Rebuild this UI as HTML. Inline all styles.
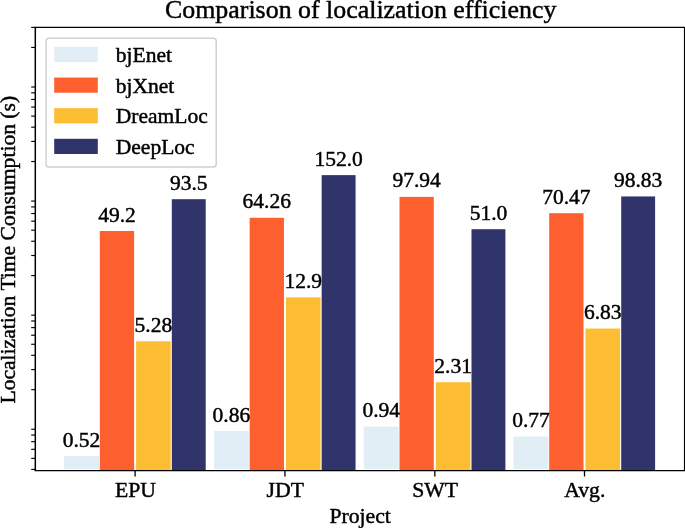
<!DOCTYPE html>
<html><head><meta charset="utf-8"><title>Comparison of localization efficiency</title>
<style>html,body{margin:0;padding:0;background:#fff}body{width:685px;height:528px;overflow:hidden}</style></head>
<body>
<svg width="685" height="528" viewBox="0 0 685 528" style="display:block;font-family:'Liberation Serif','Times New Roman',serif">
<rect width="685" height="528" fill="#fff"/>
<rect x="64.10" y="455.92" width="34.90" height="13.08" fill="#E1EEF6"/>
<rect x="213.95" y="430.99" width="34.90" height="38.01" fill="#E1EEF6"/>
<rect x="363.80" y="426.59" width="34.90" height="42.41" fill="#E1EEF6"/>
<rect x="513.50" y="436.47" width="34.90" height="32.53" fill="#E1EEF6"/>
<rect x="99.80" y="231.00" width="34.30" height="239.00" fill="#FE5F2E"/>
<rect x="249.65" y="217.77" width="34.30" height="252.23" fill="#FE5F2E"/>
<rect x="399.50" y="196.89" width="34.30" height="273.11" fill="#FE5F2E"/>
<rect x="549.20" y="213.20" width="34.30" height="256.80" fill="#FE5F2E"/>
<rect x="136.10" y="341.28" width="34.60" height="128.72" fill="#FCBD32"/>
<rect x="285.95" y="297.32" width="34.60" height="172.68" fill="#FCBD32"/>
<rect x="435.80" y="382.24" width="34.60" height="87.76" fill="#FCBD32"/>
<rect x="585.50" y="328.53" width="34.60" height="141.47" fill="#FCBD32"/>
<rect x="171.80" y="199.19" width="33.90" height="270.81" fill="#31336B"/>
<rect x="321.65" y="175.12" width="33.90" height="294.88" fill="#31336B"/>
<rect x="471.50" y="229.22" width="33.90" height="240.78" fill="#31336B"/>
<rect x="621.20" y="196.44" width="33.90" height="273.56" fill="#31336B"/>
<text x="81.55" y="446.52" font-size="21.5" text-anchor="middle" fill="#000" stroke="#000" stroke-width="0.45">0.52</text>
<text x="116.95" y="221.60" font-size="21.5" text-anchor="middle" fill="#000" stroke="#000" stroke-width="0.45">49.2</text>
<text x="153.40" y="331.88" font-size="21.5" text-anchor="middle" fill="#000" stroke="#000" stroke-width="0.45">5.28</text>
<text x="188.75" y="189.79" font-size="21.5" text-anchor="middle" fill="#000" stroke="#000" stroke-width="0.45">93.5</text>
<text x="231.40" y="421.59" font-size="21.5" text-anchor="middle" fill="#000" stroke="#000" stroke-width="0.45">0.86</text>
<text x="266.80" y="208.37" font-size="21.5" text-anchor="middle" fill="#000" stroke="#000" stroke-width="0.45">64.26</text>
<text x="303.25" y="287.92" font-size="21.5" text-anchor="middle" fill="#000" stroke="#000" stroke-width="0.45">12.9</text>
<text x="338.60" y="165.72" font-size="21.5" text-anchor="middle" fill="#000" stroke="#000" stroke-width="0.45">152.0</text>
<text x="381.25" y="417.19" font-size="21.5" text-anchor="middle" fill="#000" stroke="#000" stroke-width="0.45">0.94</text>
<text x="416.65" y="187.49" font-size="21.5" text-anchor="middle" fill="#000" stroke="#000" stroke-width="0.45">97.94</text>
<text x="453.10" y="372.84" font-size="21.5" text-anchor="middle" fill="#000" stroke="#000" stroke-width="0.45">2.31</text>
<text x="488.45" y="219.82" font-size="21.5" text-anchor="middle" fill="#000" stroke="#000" stroke-width="0.45">51.0</text>
<text x="530.95" y="427.07" font-size="21.5" text-anchor="middle" fill="#000" stroke="#000" stroke-width="0.45">0.77</text>
<text x="566.35" y="203.80" font-size="21.5" text-anchor="middle" fill="#000" stroke="#000" stroke-width="0.45">70.47</text>
<text x="602.80" y="319.13" font-size="21.5" text-anchor="middle" fill="#000" stroke="#000" stroke-width="0.45">6.83</text>
<text x="638.15" y="187.04" font-size="21.5" text-anchor="middle" fill="#000" stroke="#000" stroke-width="0.45">98.83</text>
<line x1="31.20" x2="35.30" y1="469.42" y2="469.42" stroke="#000" stroke-width="1.15"/>
<line x1="31.20" x2="35.30" y1="458.36" y2="458.36" stroke="#000" stroke-width="1.15"/>
<line x1="31.20" x2="35.30" y1="449.33" y2="449.33" stroke="#000" stroke-width="1.15"/>
<line x1="31.20" x2="35.30" y1="441.69" y2="441.69" stroke="#000" stroke-width="1.15"/>
<line x1="31.20" x2="35.30" y1="435.08" y2="435.08" stroke="#000" stroke-width="1.15"/>
<line x1="31.20" x2="35.30" y1="429.24" y2="429.24" stroke="#000" stroke-width="1.15"/>
<line x1="31.20" x2="35.30" y1="389.68" y2="389.68" stroke="#000" stroke-width="1.15"/>
<line x1="31.20" x2="35.30" y1="369.59" y2="369.59" stroke="#000" stroke-width="1.15"/>
<line x1="31.20" x2="35.30" y1="355.34" y2="355.34" stroke="#000" stroke-width="1.15"/>
<line x1="31.20" x2="35.30" y1="344.28" y2="344.28" stroke="#000" stroke-width="1.15"/>
<line x1="31.20" x2="35.30" y1="335.25" y2="335.25" stroke="#000" stroke-width="1.15"/>
<line x1="31.20" x2="35.30" y1="327.61" y2="327.61" stroke="#000" stroke-width="1.15"/>
<line x1="31.20" x2="35.30" y1="321.00" y2="321.00" stroke="#000" stroke-width="1.15"/>
<line x1="31.20" x2="35.30" y1="315.16" y2="315.16" stroke="#000" stroke-width="1.15"/>
<line x1="31.20" x2="35.30" y1="275.60" y2="275.60" stroke="#000" stroke-width="1.15"/>
<line x1="31.20" x2="35.30" y1="255.51" y2="255.51" stroke="#000" stroke-width="1.15"/>
<line x1="31.20" x2="35.30" y1="241.26" y2="241.26" stroke="#000" stroke-width="1.15"/>
<line x1="31.20" x2="35.30" y1="230.20" y2="230.20" stroke="#000" stroke-width="1.15"/>
<line x1="31.20" x2="35.30" y1="221.17" y2="221.17" stroke="#000" stroke-width="1.15"/>
<line x1="31.20" x2="35.30" y1="213.53" y2="213.53" stroke="#000" stroke-width="1.15"/>
<line x1="31.20" x2="35.30" y1="206.92" y2="206.92" stroke="#000" stroke-width="1.15"/>
<line x1="31.20" x2="35.30" y1="201.08" y2="201.08" stroke="#000" stroke-width="1.15"/>
<line x1="31.20" x2="35.30" y1="161.52" y2="161.52" stroke="#000" stroke-width="1.15"/>
<line x1="31.20" x2="35.30" y1="141.43" y2="141.43" stroke="#000" stroke-width="1.15"/>
<line x1="31.20" x2="35.30" y1="127.18" y2="127.18" stroke="#000" stroke-width="1.15"/>
<line x1="31.20" x2="35.30" y1="116.12" y2="116.12" stroke="#000" stroke-width="1.15"/>
<line x1="31.20" x2="35.30" y1="107.09" y2="107.09" stroke="#000" stroke-width="1.15"/>
<line x1="31.20" x2="35.30" y1="99.45" y2="99.45" stroke="#000" stroke-width="1.15"/>
<line x1="31.20" x2="35.30" y1="92.84" y2="92.84" stroke="#000" stroke-width="1.15"/>
<line x1="31.20" x2="35.30" y1="87.00" y2="87.00" stroke="#000" stroke-width="1.15"/>
<line x1="31.20" x2="35.30" y1="47.44" y2="47.44" stroke="#000" stroke-width="1.15"/>
<line x1="31.20" x2="35.30" y1="27.35" y2="27.35" stroke="#000" stroke-width="1.15"/>
<line x1="135.10" x2="135.10" y1="470.60" y2="476.50" stroke="#000" stroke-width="1.3"/>
<text x="135.40" y="497.3" font-size="21.7" text-anchor="middle" fill="#000" stroke="#000" stroke-width="0.45">EPU</text>
<line x1="284.95" x2="284.95" y1="470.60" y2="476.50" stroke="#000" stroke-width="1.3"/>
<text x="285.25" y="497.3" font-size="21.7" text-anchor="middle" fill="#000" stroke="#000" stroke-width="0.45">JDT</text>
<line x1="434.80" x2="434.80" y1="470.60" y2="476.50" stroke="#000" stroke-width="1.3"/>
<text x="435.10" y="497.3" font-size="21.7" text-anchor="middle" fill="#000" stroke="#000" stroke-width="0.45">SWT</text>
<line x1="584.50" x2="584.50" y1="470.60" y2="476.50" stroke="#000" stroke-width="1.3"/>
<text x="584.80" y="497.3" font-size="21.7" text-anchor="middle" fill="#000" stroke="#000" stroke-width="0.45">Avg.</text>
<line x1="34.65" x2="685.25" y1="27.43" y2="27.43" stroke="#000" stroke-width="1.2"/>
<line x1="34.65" x2="685.25" y1="470.60" y2="470.60" stroke="#000" stroke-width="1.35"/>
<line x1="35.30" x2="35.30" y1="27.35" y2="470.60" stroke="#000" stroke-width="1.5"/>
<line x1="684.60" x2="684.60" y1="27.35" y2="470.60" stroke="#000" stroke-width="1.35"/>
<rect x="46.1" y="38.3" width="170.1" height="128.7" rx="2.8" ry="2.8" fill="#fff" fill-opacity="0.8" stroke="#d0d0d0" stroke-width="1.45"/>
<rect x="54.2" y="46.90" width="43.6" height="15.2" fill="#E1EEF6"/>
<text x="115.8" y="62.10" font-size="21.5" fill="#000" stroke="#000" stroke-width="0.45">bjEnet</text>
<rect x="54.2" y="77.53" width="43.6" height="15.2" fill="#FE5F2E"/>
<text x="115.8" y="92.73" font-size="21.5" fill="#000" stroke="#000" stroke-width="0.45">bjXnet</text>
<rect x="54.2" y="108.16" width="43.6" height="15.2" fill="#FCBD32"/>
<text x="115.8" y="123.36" font-size="21.5" fill="#000" stroke="#000" stroke-width="0.45">DreamLoc</text>
<rect x="54.2" y="138.79" width="43.6" height="15.2" fill="#31336B"/>
<text x="115.8" y="153.99" font-size="21.5" fill="#000" stroke="#000" stroke-width="0.45">DeepLoc</text>
<text x="360.7" y="18.0" font-size="25.9" text-anchor="middle" fill="#000" stroke="#000" stroke-width="0.45">Comparison of localization efficiency</text>
<text x="360.2" y="523.1" font-size="21.7" text-anchor="middle" fill="#000" stroke="#000" stroke-width="0.45">Project</text>
<text transform="translate(15.1,249.7) rotate(-90)" font-size="21.6" text-anchor="middle" fill="#000" stroke="#000" stroke-width="0.45">Localization Time Consumption (s)</text>
</svg>
</body></html>
